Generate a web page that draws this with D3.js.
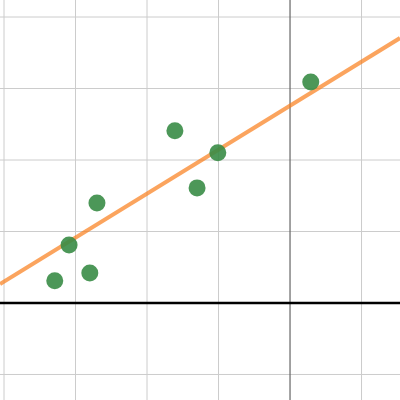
<!DOCTYPE html>
<html>
<head>
<script src="https://cdn.jsdelivr.net/npm/d3@7"></script>
<style>body{margin:0;background:#fff}</style>
</head>
<body>
<svg id="chart"></svg>
<script>
// Data
const xs = [-3.29, -3.09, -2.80, -2.70, -1.61, -1.30, -1.01, 0.29];
const ys = [0.31, 0.81, 0.42, 1.40, 2.41, 1.61, 2.10, 3.09];
const slope = 0.615, intercept = 2.76;
const gridX = [-4, -3, -2, -1, 1];
const gridY = [-1, 1, 2, 3, 4];

const width = 400, height = 400;
const svg = d3.select("#chart").attr("width", width).attr("height", height);

const x = d3.scaleLinear().domain([-4.056, 1.538]).range([0, width]);
const y = d3.scaleLinear().domain([-1.357, 4.238]).range([height, 0]);

// Grid
svg.selectAll(".gx").data(gridX).enter().append("line")
    .attr("x1", d => x(d)).attr("x2", d => x(d))
    .attr("y1", 0).attr("y2", height)
    .attr("stroke", "#ccc").attr("stroke-width", 1);
svg.selectAll(".gy").data(gridY).enter().append("line")
    .attr("y1", d => y(d)).attr("y2", d => y(d))
    .attr("x1", 0).attr("x2", width)
    .attr("stroke", "#ccc").attr("stroke-width", 1);

// Axes
svg.append("line").attr("x1", x(0)).attr("x2", x(0)).attr("y1", 0).attr("y2", height)
    .attr("stroke", "#666").attr("stroke-width", 1.2);
svg.append("line").attr("y1", y(0)).attr("y2", y(0)).attr("x1", 0).attr("x2", width)
    .attr("stroke", "#000").attr("stroke-width", 2.5);

// Fit line
const xd = x.domain();
svg.append("line")
    .attr("x1", x(xd[0])).attr("y1", y(slope * xd[0] + intercept))
    .attr("x2", x(xd[1])).attr("y2", y(slope * xd[1] + intercept))
    .attr("stroke", "#fa7e19").attr("stroke-opacity", 0.7).attr("stroke-width", 4);

// Points
svg.selectAll(".pt").data(xs).enter().append("circle")
    .attr("cx", d => x(d)).attr("cy", (d, i) => y(ys[i]))
    .attr("r", 8.5).attr("fill", "#388c46").attr("fill-opacity", 0.9);
</script>
</body>
</html>
